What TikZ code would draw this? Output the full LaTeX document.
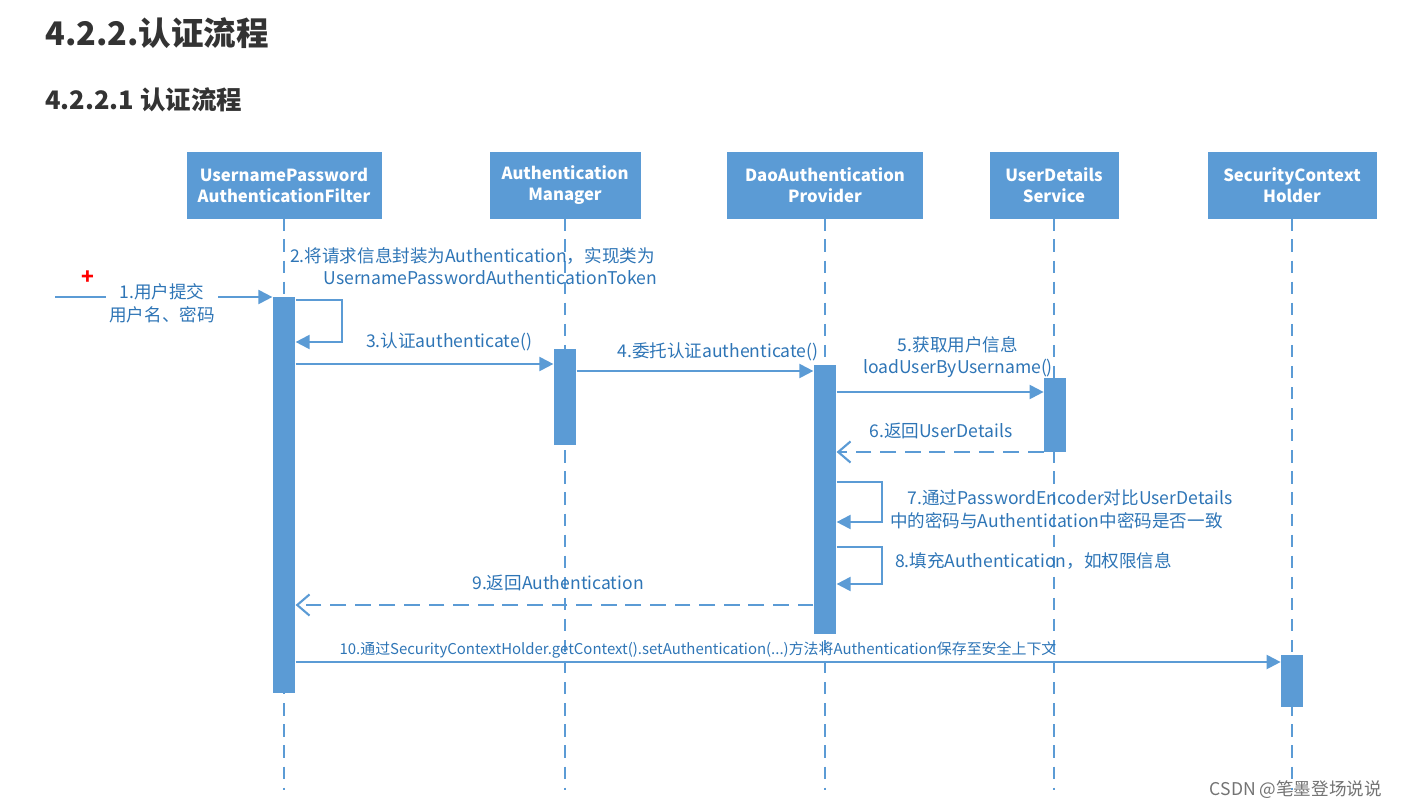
\documentclass[tikz,border=0pt]{standalone}
\usepackage{fontspec}
\setmainfont{Noto Sans CJK SC}
\usetikzlibrary{arrows.meta,positioning}
\definecolor{seqblue}{HTML}{5B9BD5}
\definecolor{txtblue}{HTML}{2E75B6}
\tikzset{
    headsty/.style={draw=seqblue,fill=seqblue,rectangle,text=white,font=\fontsize{9.5}{12}\selectfont\bfseries,align=center,inner sep=0pt},
    actsty/.style={fill=seqblue,rectangle,inner sep=0pt,minimum width=0.45cm},
    lifesty/.style={seqblue,line width=1.2pt,dash pattern=on 7pt off 5pt},
    msgsty/.style={seqblue,line width=1.2pt,-{Triangle[length=8pt,width=8pt]}},
    retsty/.style={seqblue,line width=1.2pt,dash pattern=on 9pt off 5pt,-{Straight Barb[length=7pt,width=12pt]}},
    lblsty/.style={text=txtblue,font=\fontsize{10}{13}\selectfont,inner sep=1pt},
}
\begin{document}
\begin{tikzpicture}[x=0.02cm,y=-0.02cm]
  \useasboundingbox (0,0) rectangle (1401,809);
  % titles
  \node[anchor=west,inner sep=0pt,font=\fontsize{18.5}{20}\selectfont\bfseries,text=black!80] (t1) at (45,33) {4.2.2.认证流程};
  \node[anchor=west,inner sep=0pt,font=\fontsize{14.5}{16}\selectfont\bfseries,text=black!80] (t2) at (45,100) {4.2.2.1 认证流程};
  % heads
  \node[headsty,minimum width=3.88cm,minimum height=1.32cm] (flt) at (284,185) {UsernamePassword\\AuthenticationFilter};
  \node[headsty,minimum width=3cm,minimum height=1.32cm] (mgr) at (565,185) {Authentication\\Manager};
  \node[headsty,minimum width=3.9cm,minimum height=1.32cm] (prv) at (825,185) {DaoAuthentication\\Provider};
  \node[headsty,minimum width=2.56cm,minimum height=1.32cm] (uds) at (1054,185) {UserDetails\\Service};
  \node[headsty,minimum width=3.36cm,minimum height=1.32cm] (sch) at (1292,185) {SecurityContext\\Holder};
  % lifelines
  \foreach \n/\x in {flt/284,mgr/565,prv/825,uds/1054,sch/1292}
    \draw[lifesty] (\n.south) -- (\x,790);
  % activations
  \node[actsty,minimum height=7.92cm] (aflt) at (284,495) {};
  \node[actsty,minimum height=1.92cm] (amgr) at (565,397) {};
  \node[actsty,minimum height=5.38cm] (aprv) at (825,499.5) {};
  \node[actsty,minimum height=1.48cm,minimum width=0.44cm] (auds) at (1055,415) {};
  \node[actsty,minimum height=1.04cm,minimum width=0.44cm] (asch) at (1292,681) {};
  % messages
  \coordinate (user) at (55,297);
  \node[text=red,font=\bfseries\large] (plus) at (88,278) {+};
  \draw[msgsty] (user) -- (aflt.west |- user);
  \node[lblsty,align=center,fill=white,inner sep=2pt] (l1) at (162,303) {1.用户提交\\用户名、密码};
  \draw[msgsty] (aflt.east |- 0,300) -- (342,300) -- (342,342) -- (aflt.east |- 0,342);
  \node[lblsty,anchor=north west,align=left] (l2) at (288,245) {2.将请求信息封装为Authentication，实现类为\\\hspace*{1.9em}UsernamePasswordAuthenticationToken};
  \draw[msgsty] (aflt.east |- 0,364) -- (amgr.west |- 0,364);
  \node[lblsty] (l3) at (449,342) {3.认证authenticate()};
  \draw[msgsty] (amgr.east |- 0,371) -- (aprv.west |- 0,371);
  \node[lblsty] (l4) at (718,352) {4.委托认证authenticate()};
  \draw[msgsty] (aprv.east |- 0,392) -- (auds.west |- 0,392);
  \node[lblsty,align=center] (l5) at (958,357) {5.获取用户信息\\loadUserByUsername()};
  \draw[retsty] (auds.west |- 0,452) -- (aprv.east |- 0,452);
  \node[lblsty] (l6) at (941,431) {6.返回UserDetails};
  \draw[msgsty] (aprv.east |- 0,482) -- (882,482) -- (882,522) -- (aprv.east |- 0,522);
  \node[lblsty,anchor=west,align=left] (l7) at (888,509) {\hspace*{1em}7.通过PasswordEncoder对比UserDetails\\中的密码与Authentication中密码是否一致};
  \draw[msgsty] (aprv.east |- 0,547) -- (882,547) -- (882,584) -- (aprv.east |- 0,584);
  \node[lblsty,anchor=west] (l8) at (893,561) {8.填充Authentication，如权限信息};
  \draw[retsty] (aprv.west |- 0,605) -- (aflt.east |- 0,605);
  \node[lblsty] (l9) at (558,583) {9.返回Authentication};
  \draw[msgsty] (aflt.east |- 0,662) -- (asch.west |- 0,662);
  \node[lblsty,font=\fontsize{8.5}{11}\selectfont] (l10) at (698,650) {10.通过SecurityContextHolder.getContext().setAuthentication(...)方法将Authentication保存至安全上下文};
  % watermark
  \node[anchor=east,text=black!55,font=\fontsize{10}{12}\selectfont] (wm) at (1388,790) {CSDN @笔墨登场说说};
\end{tikzpicture}
\end{document}
